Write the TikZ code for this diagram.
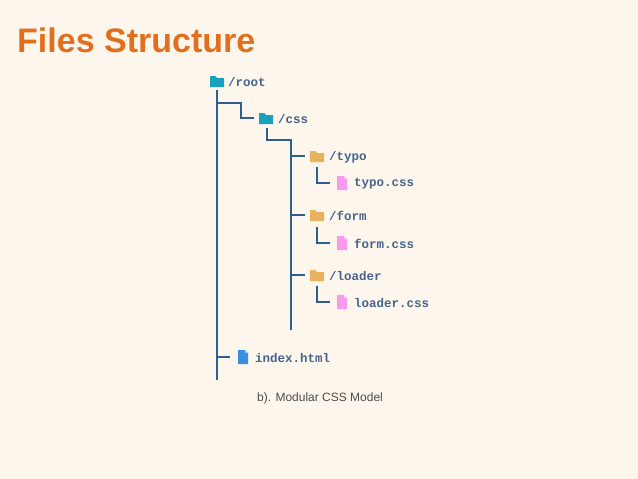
\documentclass[tikz,border=0pt]{standalone}
\usepackage{fontspec}
\setmainfont{Liberation Sans}
\newfontfamily\mono{Liberation Mono}
\begin{document}
\begin{tikzpicture}[x=1pt,y=-1pt,
  ln/.style={draw=lineblue,line width=1.3pt},
  lbl/.style={anchor=west,inner sep=0pt,font=\mono\bfseries\fontsize{12.5}{14}\selectfont,text=txtblue},
  folder/.pic={\fill[#1] (-7,-5) -- (-2,-5) -- (0,-3) -- (7,-3) -- (7,6) -- (-7,6) -- cycle;},
  file/.pic={\fill[#1] (-5,-7) -- (2,-7) -- (5,-4) -- (5,7) -- (-5,7) -- cycle;
             \fill[white,opacity=.5] (2,-7) -- (2,-4) -- (5,-4) -- cycle;}]
\definecolor{bg}{HTML}{FDF6EC}
\definecolor{lineblue}{HTML}{2F5F8F}
\definecolor{txtblue}{HTML}{46648A}
\definecolor{teal}{HTML}{18A2BE}
\definecolor{fold}{HTML}{E8B25E}
\definecolor{pinkf}{HTML}{F79AEC}
\definecolor{bluef}{HTML}{3A8EE0}
\definecolor{ttl}{HTML}{E0701E}
\fill[bg] (0,0) rectangle (638,479);
\useasboundingbox (0,0) rectangle (638,479);
\node[anchor=west,inner sep=0pt,font=\bfseries\fontsize{34}{36}\selectfont,text=ttl] (title) at (17,40) {Files Structure};
% icons
\pic at (217,81) {folder=teal};
\pic at (266,118) {folder=teal};
\pic at (317,156) {folder=fold};
\pic at (317,215) {folder=fold};
\pic at (317,275) {folder=fold};
\pic at (342,183) {file=pinkf};
\pic at (342,243) {file=pinkf};
\pic at (342,302) {file=pinkf};
\pic at (243,357) {file=bluef};
% labels
\node[lbl] (root) at (228,82) {/root};
\node[lbl] (css) at (278,119) {/css};
\node[lbl] (typo) at (329,157) {/typo};
\node[lbl] (typocss) at (354,184) {typo.css};
\node[lbl] (form) at (329,216) {/form};
\node[lbl] (formcss) at (354,244) {form.css};
\node[lbl] (loader) at (329,276) {/loader};
\node[lbl] (loadercss) at (354,303) {loader.css};
\node[lbl] (index) at (255,358) {index.html};
\node[font=\fontsize{12}{14}\selectfont,text=black!70] (cap) at (320,398) {b). Modular CSS Model};
% coordinates
\coordinate (r0) at (217,90);
\coordinate (r1) at (217,380);
\coordinate (c0) at (267,128);
\coordinate (c1) at (291,330);
% lines
\draw[ln] (r0) -- (r1);
\draw[ln] (217,103) -- (241,103) -- (241,118) -- (254,118);
\draw[ln] (c0) -- (267,140) -- (291,140) -- (c1);
\foreach \y in {156,215,275}{\draw[ln] (291,\y) -- (305,\y);}
\foreach \y in {167,227,286}{\draw[ln] (317,\y) -- (317,\y+16) -- (330,\y+16);}
\draw[ln] (217,357) -- (230,357);
\end{tikzpicture}
\end{document}
